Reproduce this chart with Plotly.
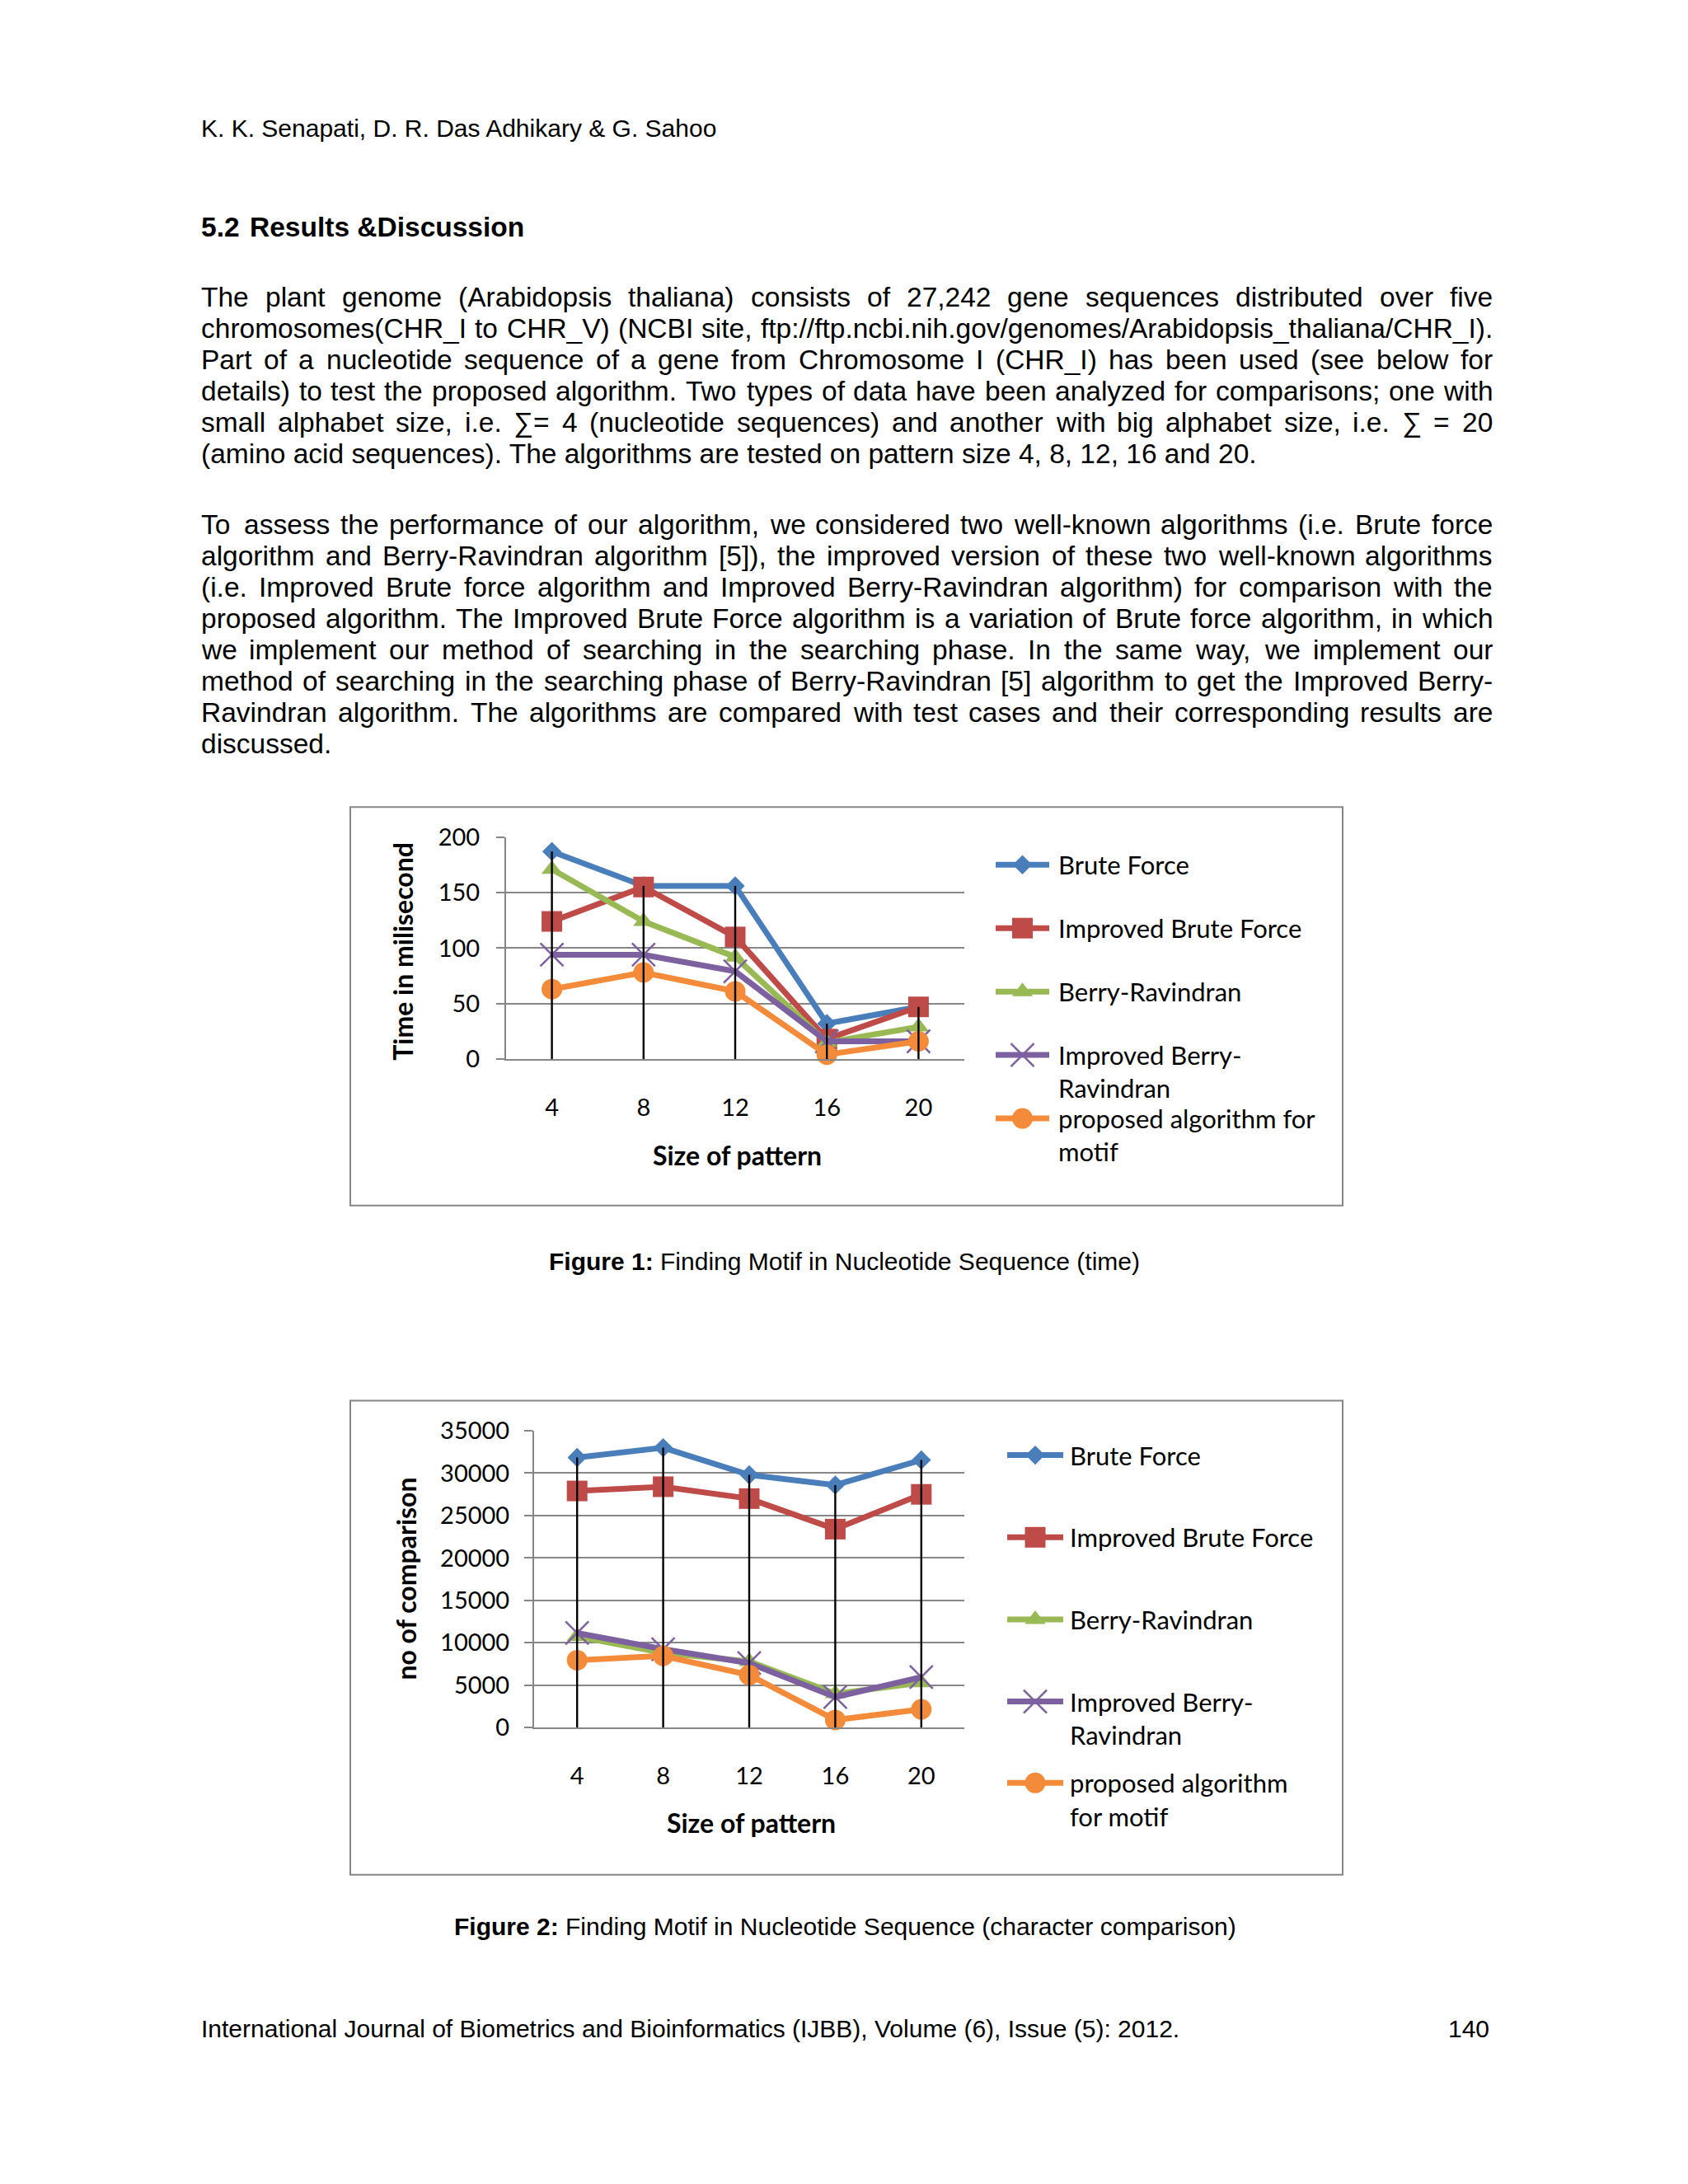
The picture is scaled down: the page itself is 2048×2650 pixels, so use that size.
import plotly.graph_objects as go

# ---------------- data ----------------
sizes = ["4", "8", "12", "16", "20"]
series_names = ["Brute Force", "Improved Brute Force", "Berry-Ravindran",
                "Improved Berry-Ravindran", "proposed algorithm for motif"]

time_bf = [187, 156, 156, 32, 47]
time_ibf = [124, 155, 110, 18, 47]
time_br = [171, 124, 92, 15, 29]
time_ibr = [94, 94, 79, 16, 16]
time_prop = [63, 78, 61, 4, 16]

cmp_bf = [31850, 33000, 29800, 28600, 31550]
cmp_ibf = [27900, 28400, 27000, 23400, 27500]
cmp_br = [10750, 8800, 7800, 4000, 5300]
cmp_ibr = [11150, 9250, 7600, 3600, 5950]
cmp_prop = [7950, 8450, 6200, 900, 2150]

legend_lines_1 = [["Brute Force"], ["Improved Brute Force"], ["Berry-Ravindran"],
                  ["Improved Berry-", "Ravindran"], ["proposed algorithm for", "motif"]]
legend_lines_2 = [["Brute Force"], ["Improved Brute Force"], ["Berry-Ravindran"],
                  ["Improved Berry-", "Ravindran"], ["proposed algorithm", "for motif"]]

header_text = "K. K. Senapati, D. R. Das Adhikary & G. Sahoo"
para1 = [
    "The plant genome (Arabidopsis thaliana) consists of 27,242 gene sequences distributed over five",
    "chromosomes(CHR_I to CHR_V) (NCBI site, ftp://ftp.ncbi.nih.gov/genomes/Arabidopsis_thaliana/CHR_I).",
    "Part of a nucleotide sequence of a gene from Chromosome I (CHR_I) has been used (see below for",
    "details) to test the proposed algorithm. Two types of data have been analyzed for comparisons; one with",
    "small alphabet size, i.e. \u2211= 4 (nucleotide sequences) and another with big alphabet size, i.e. \u2211 = 20",
    "(amino acid sequences). The algorithms are tested on pattern size 4, 8, 12, 16 and 20.",
]
para2 = [
    "To assess the performance of our algorithm, we considered two well-known algorithms (i.e. Brute force",
    "algorithm and Berry-Ravindran algorithm [5]), the improved version of these two well-known algorithms",
    "(i.e. Improved Brute force algorithm and Improved Berry-Ravindran algorithm) for comparison with the",
    "proposed algorithm. The Improved Brute Force algorithm is a variation of Brute force algorithm, in which",
    "we implement our method of searching in the searching phase. In the same way, we implement our",
    "method of searching in the searching phase of Berry-Ravindran [5] algorithm to get the Improved Berry-",
    "Ravindran algorithm. The algorithms are compared with test cases and their corresponding results are",
    "discussed.",
]
footer_text = "International Journal of Biometrics and Bioinformatics (IJBB), Volume (6), Issue (5): 2012."

# ---------------- page geometry ----------------
W, H = 2048, 2650


def px(x):
    return x / W


def py(y):
    return 1 - y / H


colors = ["#4A7EBB", "#BE4B48", "#98B954", "#7D60A0", "#F38B3A"]
symbols = ["diamond", "square", "triangle-up", "x-thin", "circle"]
msizes = [18, 25, 22, 28, 25]
GRID = "#868686"
CHART_FONT = "Lato"
BODY_FONT = "Liberation Sans"

fig = go.Figure()


def marker_for(i):
    if symbols[i] == "x-thin":
        return dict(symbol="x-thin", size=msizes[i], line=dict(color=colors[i], width=2.5))
    return dict(symbol=symbols[i], size=msizes[i], color=colors[i], line=dict(width=0))


def add_chart(series, xa, ya):
    for i, vals in enumerate(series):
        fig.add_trace(go.Scatter(x=sizes, y=vals, mode="lines+markers", name=series_names[i],
                                 line=dict(color=colors[i], width=7), marker=marker_for(i),
                                 xaxis=xa, yaxis=ya, cliponaxis=False, showlegend=False))
    # drop lines from highest point to the axis
    dx, dy = [], []
    for k, s in enumerate(sizes):
        dx += [s, s, None]
        dy += [0, max(v[k] for v in series), None]
    fig.add_trace(go.Scatter(x=dx, y=dy, mode="lines", line=dict(color="black", width=2.4),
                             xaxis=xa, yaxis=ya, cliponaxis=False, showlegend=False,
                             hoverinfo="skip"))


add_chart([time_bf, time_ibf, time_br, time_ibr, time_prop], "x", "y")
add_chart([cmp_bf, cmp_ibf, cmp_br, cmp_ibr, cmp_prop], "x2", "y2")

tickfont = dict(family=CHART_FONT, size=29, color="black")


def xaxis_cfg(x0, x1, anchor):
    return dict(domain=[px(x0), px(x1)], anchor=anchor, type="category", range=[-0.5, 4.5],
                showgrid=False, showline=True, linecolor=GRID, linewidth=2, ticks="",
                tickfont=tickfont, ticklabelstandoff=32, zeroline=False, fixedrange=True)


def yaxis_cfg(y0, y1, anchor, rng, dtick, standoff):
    return dict(domain=[py(y1), py(y0)], anchor=anchor, range=rng, dtick=dtick,
                tickformat="d",
                showgrid=True, gridcolor=GRID, gridwidth=2, showline=True, linecolor=GRID,
                linewidth=2, ticks="outside", ticklen=10, tickcolor=GRID, tickwidth=2,
                tickfont=tickfont, ticklabelstandoff=standoff, zeroline=False, fixedrange=True)


fig.update_layout(
    xaxis=xaxis_cfg(614, 1170, "y"),
    yaxis=yaxis_cfg(1010, 1283, "x", [0, 200], 50, 14),
    xaxis2=xaxis_cfg(648, 1170, "y2"),
    yaxis2=yaxis_cfg(1740, 2105, "x2", [0, 35000], 5000, 12),
    xaxis3=dict(domain=[0, 1], range=[0, W], visible=False, anchor="y3", fixedrange=True),
    yaxis3=dict(domain=[0, 1], range=[H, 0], visible=False, anchor="x3", fixedrange=True),
)

annotations = []
shapes = []

# chart frames
for (x0, y0, x1, y1) in [(425, 973, 1629, 1463), (425, 1703, 1629, 2286)]:
    shapes.append(dict(type="rect", xref="paper", yref="paper", x0=px(x0), x1=px(x1),
                       y0=py(y1), y1=py(y0), line=dict(color=GRID, width=2),
                       fillcolor="rgba(0,0,0,0)", layer="below"))


def ann(text, x, y, size, family, xanchor="left", angle=0, color="black"):
    annotations.append(dict(text=text, x=px(x), y=py(y), xref="paper", yref="paper",
                            xanchor=xanchor, yanchor="middle", showarrow=False,
                            textangle=angle, font=dict(family=family, size=size, color=color)))


# axis titles
ann("<b>Size of pattern</b>", 894, 1401, 32, CHART_FONT, "center")
ann("<b>Time in milisecond</b>", 489, 1151, 32, CHART_FONT, "center", -90)
ann("<b>Size of pattern</b>", 911, 2222, 32, CHART_FONT, "center")
ann("<b>no of comparison</b>", 493, 1922, 32, CHART_FONT, "center", -90)


# manual legends
def add_legend(lines_list, xl0, xl1, xt, rows, lh):
    for i, lines in enumerate(lines_list):
        yy = rows[i]
        fig.add_trace(go.Scatter(x=[xl0, xl1], y=[yy, yy], mode="lines",
                                 line=dict(color=colors[i], width=7), xaxis="x3", yaxis="y3",
                                 showlegend=False, hoverinfo="skip", cliponaxis=False))
        fig.add_trace(go.Scatter(x=[(xl0 + xl1) / 2], y=[yy], mode="markers", marker=marker_for(i),
                                 xaxis="x3", yaxis="y3", showlegend=False, hoverinfo="skip",
                                 cliponaxis=False))
        for j, t in enumerate(lines):
            ann(t, xt, yy + j * lh, 31, CHART_FONT)


add_legend(legend_lines_1, 1208, 1273, 1282, [1044, 1122, 1200, 1278, 1356], 40)
add_legend(legend_lines_2, 1222, 1290, 1296, [1770, 1871, 1972, 2073, 2173], 41)

# ---------------- page text ----------------
AW = {' ': 278, '!': 278, '"': 355, '#': 556, '$': 556, '%': 889, '&': 667, "'": 191,
      '(': 333, ')': 333, '*': 389, '+': 584, ',': 278, '-': 333, '.': 278, '/': 278,
      ':': 278, ';': 278, '<': 584, '=': 584, '>': 584, '?': 556, '@': 1015,
      'A': 667, 'B': 667, 'C': 722, 'D': 722, 'E': 667, 'F': 611, 'G': 778, 'H': 722,
      'I': 278, 'J': 500, 'K': 667, 'L': 556, 'M': 833, 'N': 722, 'O': 778, 'P': 667,
      'Q': 778, 'R': 722, 'S': 667, 'T': 611, 'U': 722, 'V': 667, 'W': 944, 'X': 667,
      'Y': 667, 'Z': 611, '[': 278, '\\': 278, ']': 278, '_': 556,
      'a': 556, 'b': 556, 'c': 500, 'd': 556, 'e': 556, 'f': 278, 'g': 556, 'h': 556,
      'i': 222, 'j': 222, 'k': 500, 'l': 222, 'm': 833, 'n': 556, 'o': 556, 'p': 556,
      'q': 556, 'r': 333, 's': 500, 't': 278, 'u': 556, 'v': 500, 'w': 722, 'x': 500,
      'y': 500, 'z': 500, '\u2211': 713}
for d in "0123456789":
    AW[d] = 556


def tw(s, size):
    return sum(AW.get(c, 556) for c in s) / 1000.0 * size


BODY = 33.5
LEFT, RIGHT = 242, 1809


def justified(line, y):
    words = line.split(" ")
    total = sum(tw(w, BODY) for w in words)
    gap = (RIGHT - LEFT - total) / (len(words) - 1)
    x = LEFT
    for w in words:
        ann(w, x, y, BODY, BODY_FONT)
        x += tw(w, BODY) + gap


def paragraph(lines, y0, lh):
    for k, line in enumerate(lines):
        y = y0 + k * lh
        if k == len(lines) - 1:
            ann(line, LEFT, y, BODY, BODY_FONT)
        else:
            justified(line, y)


ann(header_text, LEFT, 138, 30, BODY_FONT)
ann("<b>5.2</b>", LEFT, 260, BODY, BODY_FONT)
ann("<b>Results &Discussion</b>", 301, 260, BODY, BODY_FONT)
paragraph(para1, 346, 38.6)
paragraph(para2, 626, 38.5)
ann("<b>Figure 1:</b> Finding Motif in Nucleotide Sequence (time)", 1024, 1532, 30, BODY_FONT, "center")
ann("<b>Figure 2:</b> Finding Motif in Nucleotide Sequence (character comparison)", 1025, 2350, 30,
    BODY_FONT, "center")
ann(footer_text, LEFT, 2475, 30, BODY_FONT)
ann("140", 1809, 2475, 30, BODY_FONT, "right")

fig.update_layout(width=W, height=H, margin=dict(l=0, r=0, t=0, b=0, pad=0),
                  paper_bgcolor="white", plot_bgcolor="rgba(0,0,0,0)",
                  annotations=annotations, shapes=shapes, showlegend=False)

fig.write_html("out.html",
               config={"staticPlot": True, "displayModeBar": False},
               post_script="document.documentElement.style.margin='0';"
                           "document.body.style.margin='0';"
                           "document.body.style.overflow='hidden';")
